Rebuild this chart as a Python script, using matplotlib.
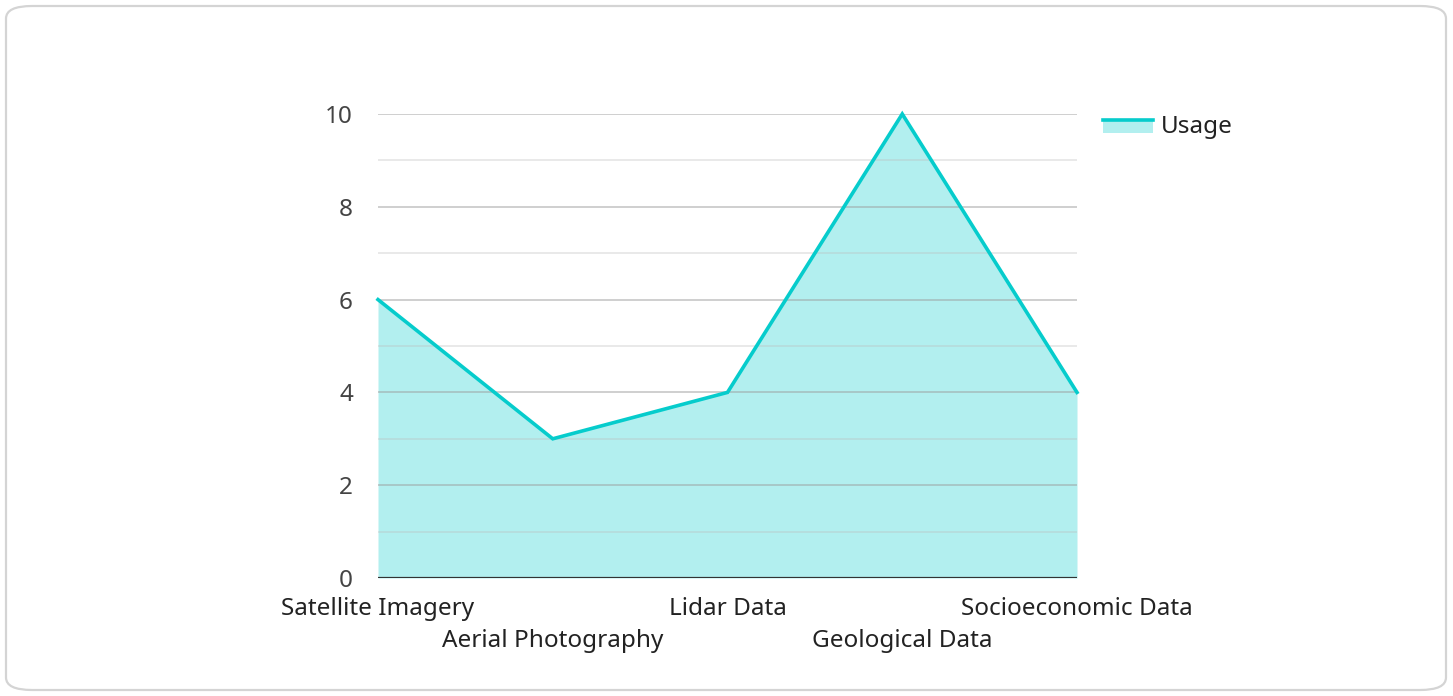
import matplotlib.pyplot as plt
from matplotlib.patches import FancyBboxPatch, Patch
from matplotlib.lines import Line2D
from matplotlib.legend_handler import HandlerBase

plt.rcParams['font.family'] = ['Noto Sans', 'DejaVu Sans']

categories = ['Satellite Imagery', 'Aerial Photography', 'Lidar Data',
              'Geological Data', 'Socioeconomic Data']
usage = [6, 3, 4, 10, 4]

line_color = '#06cccc'
fill_color = '#b2efef'
text_color = '#444444'
font_size = 17.5

fig = plt.figure(figsize=(14.53, 6.96), dpi=100)

# rounded card border
card = FancyBboxPatch((6 / 1453, 6 / 696), 1440 / 1453, 684 / 696,
                      boxstyle='round,pad=0,rounding_size=0.018',
                      transform=fig.transFigure, facecolor='white',
                      edgecolor='#d4d4d4', linewidth=1.6, zorder=-5)
fig.patches.append(card)

ax = fig.add_axes([378 / 1453, 1 - 578 / 696, 699 / 1453, 464 / 696])
ax.set_facecolor('none')
ax.set_zorder(2)

x = list(range(len(categories)))
ax.fill_between(x, usage, 0, color=fill_color, linewidth=0, zorder=1)
ax.plot(x, usage, color=line_color, linewidth=2.6, zorder=3,
        clip_on=False, solid_joinstyle='miter')

ax.set_xlim(0, len(categories) - 1)
ax.set_ylim(0, 10)

# grid: major every 2, minor halfway between, drawn over the fill
for v in range(0, 11, 2):
    ax.axhline(v, color='#9a9a9a', alpha=0.55, linewidth=1.2, zorder=2)
for v in range(1, 11, 2):
    ax.axhline(v, color='#bdbdbd', alpha=0.4, linewidth=1.2, zorder=2)
ax.axhline(0, color='#333333', linewidth=1.6, zorder=4)

for s in ax.spines.values():
    s.set_visible(False)

ax.set_yticks(range(0, 11, 2))
ax.tick_params(axis='y', length=0, pad=18, labelsize=font_size,
               labelcolor=text_color)
ax.set_xticks(x)
ax.set_xticklabels([])
ax.tick_params(axis='x', length=0)

# staggered category labels
for i, name in enumerate(categories):
    offset = -22.5 if i % 2 == 0 else -45.5
    ax.annotate(name, xy=(i, 0), xycoords='data', xytext=(0, offset),
                textcoords='offset points', ha='center', va='center',
                fontsize=font_size, color='#222222')


class AreaHandler(HandlerBase):
    def create_artists(self, legend, orig_handle, xdescent, ydescent,
                       width, height, fontsize, trans):
        patch = plt.Rectangle((-xdescent, -ydescent), width, height * 0.75,
                              facecolor=fill_color, edgecolor='none',
                              transform=trans)
        line = Line2D([-xdescent, -xdescent + width],
                      [-ydescent + height * 0.75] * 2,
                      color=line_color, linewidth=2.6, transform=trans)
        return [patch, line]


handle = Patch(label='Usage')
fig.legend([handle], ['Usage'], handler_map={Patch: AreaHandler()},
           loc='center left', bbox_to_anchor=(1081 / 1453, 1 - 127 / 696),
           frameon=False, fontsize=font_size, handlelength=2.05,
           handleheight=0.7, handletextpad=0.33, labelcolor='#222222')

fig.savefig('out.png', dpi=100)
